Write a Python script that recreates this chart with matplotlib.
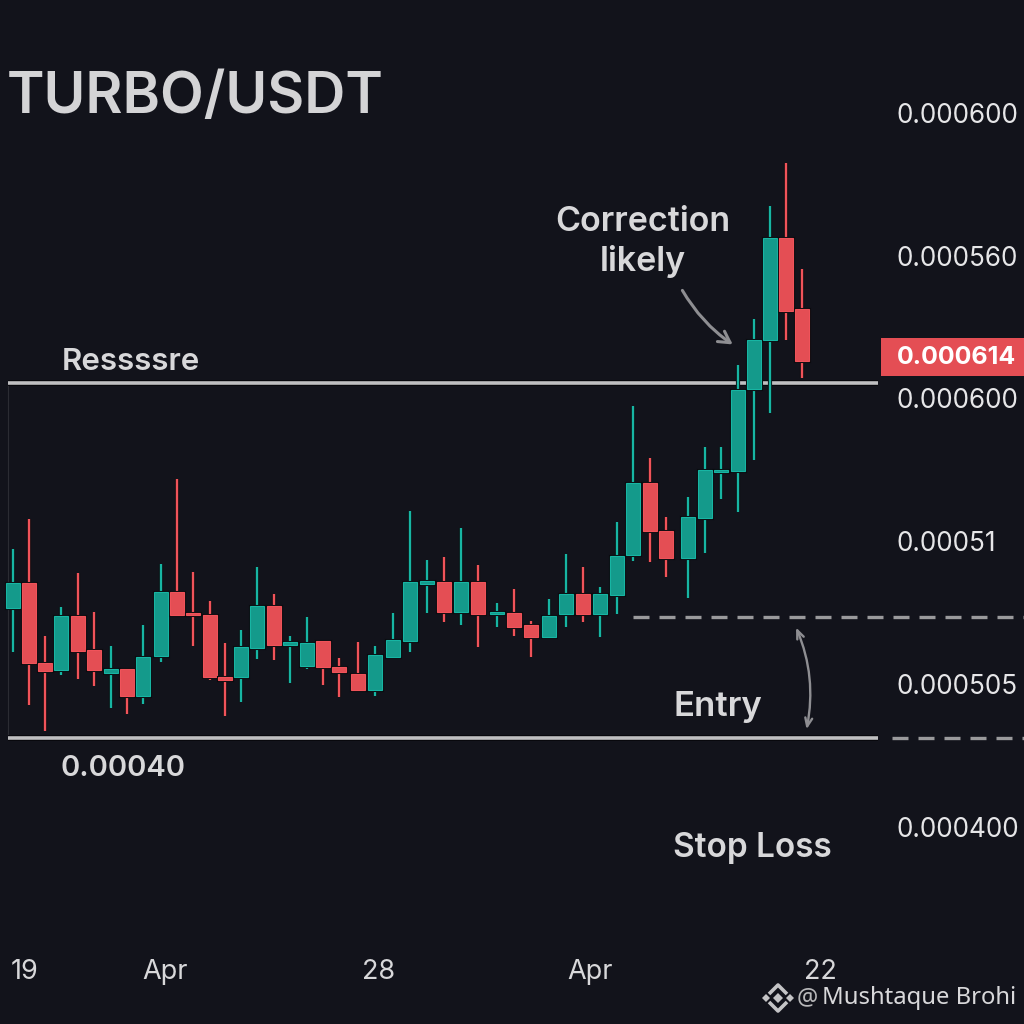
import matplotlib
matplotlib.use("Agg")
import matplotlib.pyplot as plt
from matplotlib.patches import Rectangle, FancyArrowPatch
from matplotlib.lines import Line2D
import matplotlib.patheffects as pe

# prices in millionths of USDT, time in hours from the first candle
hours = [0, 8, 16, 24, 32.5, 40.5, 49, 57, 65, 74, 82, 90, 98.5, 106, 114, 122,
         130.5, 138.5, 147, 155, 163, 172.5, 181, 190, 198.5, 207, 215.5, 224,
         232.5, 242, 250.5, 259, 268, 276.5, 285, 293.5, 302, 310, 318.5, 326.5,
         337.5, 346, 354, 362.5, 370.5, 378.5, 386.5, 394.5]
opens = [461.3, 468.3, 445.9, 444.0, 459.1, 449.6, 443.1, 444.2, 436.7, 447.9, 465.8, 459.9,
         459.4, 442.0, 442.0, 450.1, 461.9, 451.0, 445.1, 452.1, 444.8, 442.8, 438.4, 447.6,
         452.1, 468.0, 468.6, 460.2, 468.6, 459.6, 459.9, 456.6, 453.2, 459.6, 465.2, 459.6,
         465.0, 476.2, 496.3, 482.9, 475.3, 486.5, 499.4, 499.7, 522.6, 536.4, 564.9, 545.0]
closes = [468.3, 445.9, 443.7, 459.1, 449.3, 444.0, 444.2, 436.7, 447.6, 465.8, 459.4, 459.4,
          442.0, 441.2, 450.4, 461.9, 451.0, 451.8, 451.5, 444.8, 443.4, 438.4, 448.2, 452.4,
          468.6, 468.9, 460.2, 468.6, 459.6, 459.9, 456.0, 453.2, 459.1, 465.2, 459.6, 465.2,
          475.9, 496.3, 482.9, 475.3, 486.8, 500.0, 500.0, 522.4, 536.4, 564.9, 544.5, 530.5]
highs = [477.8, 486.2, 453.5, 461.6, 471.1, 460.2, 450.7, 444.2, 456.6, 473.6, 497.4, 471.4,
         463.3, 451.5, 455.2, 472.8, 465.2, 453.5, 458.8, 452.1, 447.3, 451.8, 450.7, 459.9,
         488.5, 474.8, 475.6, 483.7, 473.4, 462.7, 466.6, 457.7, 463.8, 476.4, 472.8, 467.2,
         485.4, 517.9, 503.3, 486.8, 492.4, 506.4, 506.4, 529.4, 542.2, 573.9, 585.9, 556.2]
lows = [449.0, 434.2, 426.9, 442.6, 441.4, 439.5, 433.3, 431.6, 434.4, 446.2, 458.8, 450.7,
        441.2, 431.1, 435.0, 447.0, 446.8, 440.3, 444.2, 439.8, 436.4, 438.4, 436.7, 447.0,
        449.0, 459.9, 457.4, 456.6, 450.4, 456.0, 453.5, 447.6, 452.6, 456.0, 457.4, 453.2,
        459.6, 474.5, 474.2, 470.0, 464.1, 476.7, 491.8, 488.2, 502.8, 515.9, 536.4, 525.7]

resistance = 524.3
entry = 458.8
stop = 424.9
last_price = 531.6

y_ticks = [600, 560, 520, 480, 440, 400]
y_labels = ["0.000600", "0.000560", "0.000600", "0.00051", "0.000505", "0.000400"]
x_ticks = [6, 76, 183, 288.5, 403.5]
x_labels = ["19", "Apr", "28", "Apr", "22"]

BG = "#12131b"
GREEN, GREEN_WICK = "#149a8b", "#17b5a3"
RED, RED_WICK = "#e44e54", "#f0535a"
TEXT = "#d8d8da"
LINE = "#bfbfc1"
DASH = "#9a9a9c"
FONT = "Inter"

fig = plt.figure(figsize=(10.24, 10.24), dpi=100, facecolor=BG)
ax = fig.add_axes([0, 0, 1, 1], facecolor=BG)
ax.set_xlim(-6.5, 505.5)
ax.set_ylim(344.84, 631.56)
for spine in ax.spines.values():
    spine.set_visible(False)


def px(x, y):
    # picture pixels to axes fraction
    return x / 1024, 1 - y / 1024


# level lines
outline = [pe.withStroke(linewidth=4.2, foreground="#08080c")]
for level in (resistance, stop):
    ax.plot([-2.5, 432.5], [level, level], color=LINE, lw=2.6, solid_capstyle="butt",
            path_effects=outline, zorder=2)
ax.plot([-2.5, -2.5], [stop, resistance], color="#2b2c33", lw=0.8, zorder=1)
ax.plot([310, 505.5], [entry, entry], color=DASH, lw=2.4, dashes=(4.8, 3.0), zorder=2)
ax.plot([439.5, 505.5], [stop, stop], color=DASH, lw=2.4, dashes=(4.8, 3.0), zorder=2)

# candles
halo = [pe.withStroke(linewidth=3, foreground="#0a0a0e")]
for t, o, h, l, c in zip(hours, opens, highs, lows, closes):
    up = c >= o
    ax.vlines(t, l, h, color=GREEN_WICK if up else RED_WICK, lw=1.7, zorder=3, path_effects=halo)
    bars = ax.bar(t, max(abs(c - o), 0.5), bottom=min(o, c), width=6.6,
                  color=GREEN if up else RED, edgecolor=GREEN_WICK if up else RED_WICK,
                  linewidth=0.8, zorder=4)
    bars[0].set_path_effects([pe.withStroke(linewidth=2.2, foreground="#0a0a0e")])

# axis labels sit inside the picture
ax.yaxis.tick_right()
ax.set_yticks(y_ticks, y_labels)
ax.set_xticks(x_ticks, x_labels)
ax.tick_params(axis="y", length=0, pad=-92, labelsize=18.8, labelcolor="#e6e6e8")
ax.tick_params(axis="x", length=0, pad=-47, labelsize=19.5, labelcolor=TEXT)
for lab in ax.get_xticklabels() + ax.get_yticklabels():
    lab.set_fontfamily(FONT)

# last price tag
ax.add_patch(Rectangle((434, last_price - 5.2), 71.5, 10.4, color="#e44e54", lw=0, zorder=5))
ax.text(1016 / 1024, 1 - 358 / 1024, "0.000614", transform=ax.transAxes, ha="right", va="center",
        color="white", fontsize=18, fontweight="bold", family=FONT, zorder=6)

# title and notes
ax.text(*px(7, 98), "TURBO/USDT", transform=ax.transAxes, ha="left", va="center", color="#d4d4d6",
        fontsize=41, fontweight="semibold", family=FONT)
notes = [
    (643, 222, "Correction", "center", 24.5),
    (643, 261, "likely", "center", 24.5),
    (62, 362, "Ressssre", "left", 22.5),
    (61, 769, "0.00040", "left", 21),
    (673, 707, "Entry", "left", 25),
    (673, 848, "Stop Loss", "left", 24),
]
for x, y, label, ha, size in notes:
    ax.text(*px(x, y), label, transform=ax.transAxes, ha=ha, va="center", color=TEXT,
            fontsize=size, fontweight="semibold", family=FONT)

# arrows
ax.add_patch(FancyArrowPatch(px(681, 288), px(735, 346), transform=ax.transAxes,
                             connectionstyle="arc3,rad=0.12", arrowstyle="->,head_length=8,head_width=4.5",
                             color="#8e8e92", lw=2.2, zorder=5))
ax.add_patch(FancyArrowPatch(px(795, 625), px(806, 732), transform=ax.transAxes,
                             connectionstyle="arc3,rad=-0.16", arrowstyle="<->,head_length=6,head_width=2.5",
                             color="#8e8e92", lw=1.7, zorder=5))

# watermark
cx, cy = 778, 998
for dx, dy, size in [(0, 0, 5), (-12, 0, 4), (12, 0, 4)]:
    ax.add_line(Line2D([(cx + dx) / 1024], [1 - (cy + dy) / 1024], transform=ax.transAxes, marker="D",
                       ms=size, color="#c4c4c6", mew=0, zorder=6))
for sign in (-1, 1):
    ax.add_line(Line2D([(cx - 9) / 1024, cx / 1024, (cx + 9) / 1024],
                       [1 - (cy + sign * 4) / 1024, 1 - (cy + sign * 13) / 1024, 1 - (cy + sign * 4) / 1024],
                       transform=ax.transAxes, color="#c4c4c6", lw=2.6, solid_capstyle="butt", zorder=6))
ax.text(*px(797, 998), "@", transform=ax.transAxes, ha="left", va="center", color="#b8b8ba",
        fontsize=17, family="Noto Sans")
ax.text(*px(1016, 998), "Mushtaque Brohi", transform=ax.transAxes, ha="right", va="center", color="#d8d8da",
        fontsize=17.2, family="Noto Sans")

fig.savefig("out.png", dpi=100, facecolor=BG)
